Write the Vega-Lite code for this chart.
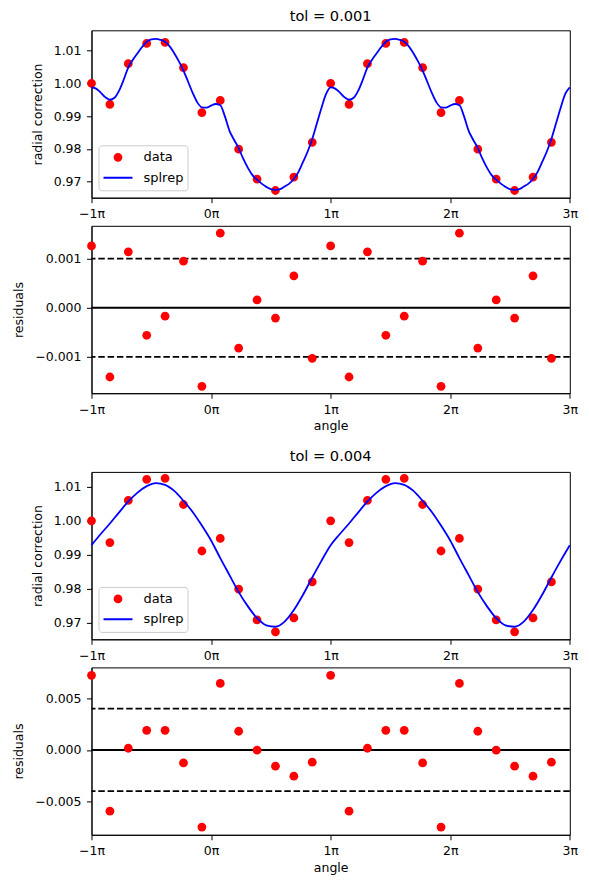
{
  "$schema": "https://vega.github.io/schema/vega-lite/v6.json",
  "background": "white",
  "padding": {"left": 11.5, "top": 7.3, "right": 5, "bottom": 5},
  "datasets": {
    "obs": [
      {"angle": -1, "value": 1.0000, "res_001": 0.00126, "res_004": 0.00723},
      {"angle": -0.84615, "value": 0.9936, "res_001": -0.00141, "res_004": -0.00594},
      {"angle": -0.69231, "value": 1.0060, "res_001": 0.00114, "res_004": 0.00016},
      {"angle": -0.53846, "value": 1.0122, "res_001": -0.00056, "res_004": 0.00190},
      {"angle": -0.38462, "value": 1.0125, "res_001": -0.00017, "res_004": 0.00190},
      {"angle": -0.23077, "value": 1.0048, "res_001": 0.00095, "res_004": -0.00126},
      {"angle": -0.07692, "value": 0.9911, "res_001": -0.00160, "res_004": -0.00748},
      {"angle": 0.07692, "value": 0.9948, "res_001": 0.00152, "res_004": 0.00645},
      {"angle": 0.23077, "value": 0.9799, "res_001": -0.00082, "res_004": 0.00181},
      {"angle": 0.38462, "value": 0.9708, "res_001": 0.00016, "res_004": -0.00003},
      {"angle": 0.53846, "value": 0.9673, "res_001": -0.00021, "res_004": -0.00158},
      {"angle": 0.69231, "value": 0.9714, "res_001": 0.00065, "res_004": -0.00255},
      {"angle": 0.84615, "value": 0.9820, "res_001": -0.00103, "res_004": -0.00119},
      {"angle": 1, "value": 1.0000, "res_001": 0.00126, "res_004": 0.00723},
      {"angle": 1.15385, "value": 0.9936, "res_001": -0.00141, "res_004": -0.00594},
      {"angle": 1.30769, "value": 1.0060, "res_001": 0.00114, "res_004": 0.00016},
      {"angle": 1.46154, "value": 1.0122, "res_001": -0.00056, "res_004": 0.00190},
      {"angle": 1.61538, "value": 1.0125, "res_001": -0.00017, "res_004": 0.00190},
      {"angle": 1.76923, "value": 1.0048, "res_001": 0.00095, "res_004": -0.00126},
      {"angle": 1.92308, "value": 0.9911, "res_001": -0.00160, "res_004": -0.00748},
      {"angle": 2.07692, "value": 0.9948, "res_001": 0.00152, "res_004": 0.00645},
      {"angle": 2.23077, "value": 0.9799, "res_001": -0.00082, "res_004": 0.00181},
      {"angle": 2.38462, "value": 0.9708, "res_001": 0.00016, "res_004": -0.00003},
      {"angle": 2.53846, "value": 0.9673, "res_001": -0.00021, "res_004": -0.00158},
      {"angle": 2.69231, "value": 0.9714, "res_001": 0.00065, "res_004": -0.00255},
      {"angle": 2.84615, "value": 0.9820, "res_001": -0.00103, "res_004": -0.00119}
    ],
    "spl_001": [
      {"angle": -1.000, "value": 0.9988}, {"angle": -0.962, "value": 0.9984}, {"angle": -0.923, "value": 0.9972},
      {"angle": -0.885, "value": 0.9958}, {"angle": -0.846, "value": 0.9950}, {"angle": -0.808, "value": 0.9956},
      {"angle": -0.769, "value": 0.9978}, {"angle": -0.731, "value": 1.0011}, {"angle": -0.692, "value": 1.0049},
      {"angle": -0.654, "value": 1.0072}, {"angle": -0.615, "value": 1.0092}, {"angle": -0.577, "value": 1.0111},
      {"angle": -0.538, "value": 1.0127}, {"angle": -0.500, "value": 1.0134}, {"angle": -0.462, "value": 1.0136},
      {"angle": -0.423, "value": 1.0133}, {"angle": -0.385, "value": 1.0127}, {"angle": -0.346, "value": 1.0113},
      {"angle": -0.308, "value": 1.0092}, {"angle": -0.269, "value": 1.0067}, {"angle": -0.231, "value": 1.0039},
      {"angle": -0.192, "value": 1.0005}, {"angle": -0.154, "value": 0.9971}, {"angle": -0.115, "value": 0.9942},
      {"angle": -0.077, "value": 0.9927}, {"angle": -0.038, "value": 0.9926}, {"angle": 0.000, "value": 0.9932},
      {"angle": 0.038, "value": 0.9937}, {"angle": 0.077, "value": 0.9933}, {"angle": 0.115, "value": 0.9900},
      {"angle": 0.154, "value": 0.9855}, {"angle": 0.192, "value": 0.9828}, {"angle": 0.231, "value": 0.9802},
      {"angle": 0.269, "value": 0.9770}, {"angle": 0.308, "value": 0.9742}, {"angle": 0.346, "value": 0.9720},
      {"angle": 0.385, "value": 0.9706}, {"angle": 0.423, "value": 0.9694}, {"angle": 0.462, "value": 0.9684},
      {"angle": 0.500, "value": 0.9677}, {"angle": 0.538, "value": 0.9675}, {"angle": 0.577, "value": 0.9677},
      {"angle": 0.615, "value": 0.9685}, {"angle": 0.654, "value": 0.9694}, {"angle": 0.692, "value": 0.9708},
      {"angle": 0.731, "value": 0.9730}, {"angle": 0.769, "value": 0.9760}, {"angle": 0.808, "value": 0.9792},
      {"angle": 0.846, "value": 0.9830}, {"angle": 0.885, "value": 0.9878}, {"angle": 0.923, "value": 0.9925},
      {"angle": 0.962, "value": 0.9968},
      {"angle": 1.000, "value": 0.9988}, {"angle": 1.038, "value": 0.9984}, {"angle": 1.077, "value": 0.9972},
      {"angle": 1.115, "value": 0.9958}, {"angle": 1.154, "value": 0.9950}, {"angle": 1.192, "value": 0.9956},
      {"angle": 1.231, "value": 0.9978}, {"angle": 1.269, "value": 1.0011}, {"angle": 1.308, "value": 1.0049},
      {"angle": 1.346, "value": 1.0072}, {"angle": 1.385, "value": 1.0092}, {"angle": 1.423, "value": 1.0111},
      {"angle": 1.462, "value": 1.0127}, {"angle": 1.500, "value": 1.0134}, {"angle": 1.538, "value": 1.0136},
      {"angle": 1.577, "value": 1.0133}, {"angle": 1.615, "value": 1.0127}, {"angle": 1.654, "value": 1.0113},
      {"angle": 1.692, "value": 1.0092}, {"angle": 1.731, "value": 1.0067}, {"angle": 1.769, "value": 1.0039},
      {"angle": 1.808, "value": 1.0005}, {"angle": 1.846, "value": 0.9971}, {"angle": 1.885, "value": 0.9942},
      {"angle": 1.923, "value": 0.9927}, {"angle": 1.962, "value": 0.9926}, {"angle": 2.000, "value": 0.9932},
      {"angle": 2.038, "value": 0.9937}, {"angle": 2.077, "value": 0.9933}, {"angle": 2.115, "value": 0.9900},
      {"angle": 2.154, "value": 0.9855}, {"angle": 2.192, "value": 0.9828}, {"angle": 2.231, "value": 0.9802},
      {"angle": 2.269, "value": 0.9770}, {"angle": 2.308, "value": 0.9742}, {"angle": 2.346, "value": 0.9720},
      {"angle": 2.385, "value": 0.9706}, {"angle": 2.423, "value": 0.9694}, {"angle": 2.462, "value": 0.9684},
      {"angle": 2.500, "value": 0.9677}, {"angle": 2.538, "value": 0.9675}, {"angle": 2.577, "value": 0.9677},
      {"angle": 2.615, "value": 0.9685}, {"angle": 2.654, "value": 0.9694}, {"angle": 2.692, "value": 0.9708},
      {"angle": 2.731, "value": 0.9730}, {"angle": 2.769, "value": 0.9760}, {"angle": 2.808, "value": 0.9792},
      {"angle": 2.846, "value": 0.9830}, {"angle": 2.885, "value": 0.9878}, {"angle": 2.923, "value": 0.9925},
      {"angle": 2.962, "value": 0.9968}, {"angle": 3.000, "value": 0.9988}
    ],
    "spl_004": [
      {"angle": -1.000, "value": 0.9928}, {"angle": -0.923, "value": 0.9961}, {"angle": -0.846, "value": 0.9992},
      {"angle": -0.769, "value": 1.0025}, {"angle": -0.692, "value": 1.0057}, {"angle": -0.615, "value": 1.0083},
      {"angle": -0.538, "value": 1.0102}, {"angle": -0.462, "value": 1.0111}, {"angle": -0.385, "value": 1.0106},
      {"angle": -0.308, "value": 1.0088}, {"angle": -0.231, "value": 1.0059}, {"angle": -0.154, "value": 1.0026},
      {"angle": -0.077, "value": 0.9986}, {"angle": 0.000, "value": 0.9942}, {"angle": 0.077, "value": 0.9890},
      {"angle": 0.154, "value": 0.9840}, {"angle": 0.231, "value": 0.9790}, {"angle": 0.308, "value": 0.9748},
      {"angle": 0.385, "value": 0.9713}, {"angle": 0.462, "value": 0.9692}, {"angle": 0.538, "value": 0.9688},
      {"angle": 0.615, "value": 0.9703}, {"angle": 0.692, "value": 0.9737}, {"angle": 0.769, "value": 0.9782},
      {"angle": 0.846, "value": 0.9833}, {"angle": 0.923, "value": 0.9882},
      {"angle": 1.000, "value": 0.9928}, {"angle": 1.077, "value": 0.9961}, {"angle": 1.154, "value": 0.9992},
      {"angle": 1.231, "value": 1.0025}, {"angle": 1.308, "value": 1.0057}, {"angle": 1.385, "value": 1.0083},
      {"angle": 1.462, "value": 1.0102}, {"angle": 1.538, "value": 1.0111}, {"angle": 1.615, "value": 1.0106},
      {"angle": 1.692, "value": 1.0088}, {"angle": 1.769, "value": 1.0059}, {"angle": 1.846, "value": 1.0026},
      {"angle": 1.923, "value": 0.9986}, {"angle": 2.000, "value": 0.9942}, {"angle": 2.077, "value": 0.9890},
      {"angle": 2.154, "value": 0.9840}, {"angle": 2.231, "value": 0.9790}, {"angle": 2.308, "value": 0.9748},
      {"angle": 2.385, "value": 0.9713}, {"angle": 2.462, "value": 0.9692}, {"angle": 2.538, "value": 0.9688},
      {"angle": 2.615, "value": 0.9703}, {"angle": 2.692, "value": 0.9737}, {"angle": 2.769, "value": 0.9782},
      {"angle": 2.846, "value": 0.9833}, {"angle": 2.923, "value": 0.9882}, {"angle": 3.000, "value": 0.9928}
    ]
  },
  "config": {
    "font": "DejaVu Sans",
    "view": {"stroke": "black", "strokeWidth": 1},
    "axis": {
      "grid": false,
      "domainColor": "black",
      "domainWidth": 1,
      "tickColor": "black",
      "tickSize": 5,
      "tickWidth": 1,
      "labelFont": "DejaVu Sans",
      "labelFontSize": 12.5,
      "labelColor": "black",
      "labelOverlap": false,
      "titleFont": "DejaVu Sans",
      "titleFontSize": 12.5,
      "titleFontWeight": "normal",
      "titleColor": "black"
    },
    "axisX": {"labelFlush": false, "labelPadding": 5, "titlePadding": 4},
    "axisY": {"labelPadding": 5.5, "titlePadding": 9},
    "title": {"font": "DejaVu Sans", "fontSize": 14.6, "fontWeight": "normal", "color": "black", "offset": 7},
    "legend": {
      "orient": "bottom-left",
      "offset": 7,
      "padding": 4,
      "strokeColor": "#cccccc",
      "fillColor": "rgba(255,255,255,0.8)",
      "cornerRadius": 3,
      "labelFont": "DejaVu Sans",
      "labelFontSize": 13,
      "labelColor": "black",
      "labelOffset": 10,
      "symbolStrokeWidth": 2,
      "clipHeight": 16,
      "rowPadding": 4.4
    }
  },
  "spacing": 14.6,
  "resolve": {"scale": {"color": "independent", "shape": "independent", "size": "independent"}, "legend": {"color": "independent", "shape": "independent", "size": "independent"}},
  "vconcat": [
    {
      "spacing": 3.5,
      "resolve": {"scale": {"color": "independent", "shape": "independent", "size": "independent"}, "legend": {"color": "independent", "shape": "independent", "size": "independent"}},
      "vconcat": [
        {
          "title": "tol = 0.001",
          "width": 478.3,
          "height": 167.4,
          "layer": [
            {
              "data": {"name": "obs"},
              "mark": {"type": "point", "filled": false, "fill": "#ff0000", "strokeWidth": 2, "opacity": 1},
              "encoding": {
                "x": {"field": "angle", "type": "quantitative", "scale": {"domain": [-1, 3], "nice": false, "zero": false},
                  "axis": {"title": null, "values": [-1, 0, 1, 2, 3], "labelExpr": "datum.value < 0 ? '−' + abs(datum.value) + 'π' : datum.value + 'π'"}},
                "y": {"field": "value", "type": "quantitative", "scale": {"domain": [0.9651, 1.0162], "nice": false, "zero": false},
                  "axis": {"title": "radial correction", "values": [0.97, 0.98, 0.99, 1.0, 1.01], "format": ".2f"}},
                "color": {"datum": "data", "type": "nominal", "scale": {"domain": ["data", "splrep"], "range": ["#ff0000", "#0000ff"]}, "legend": {"title": null}},
                "shape": {"datum": "data", "type": "nominal", "scale": {"domain": ["data", "splrep"], "range": ["circle", "stroke"]}, "legend": {"title": null}},
                "size": {"datum": "data", "type": "nominal", "scale": {"type": "ordinal", "domain": ["data", "splrep"], "range": [46, 841]}, "legend": {"title": null}}
              }
            },
            {
              "data": {"name": "spl_001"},
              "mark": {"type": "line", "strokeWidth": 1.8, "interpolate": "monotone", "color": "#0000ff"},
              "encoding": {
                "x": {"field": "angle", "type": "quantitative"},
                "y": {"field": "value", "type": "quantitative"}
              }
            }
          ]
        },
        {
          "width": 478.3,
          "height": 167.4,
          "layer": [
            {
              "data": {"values": [{"level": 0.001}, {"level": -0.001}]},
              "mark": {"type": "rule", "color": "black", "strokeWidth": 1.8, "strokeDash": [6.5, 2.8]},
              "encoding": {"y": {"field": "level", "type": "quantitative"}}
            },
            {
              "data": {"values": [{"level": 0}]},
              "mark": {"type": "rule", "color": "black", "strokeWidth": 2},
              "encoding": {"y": {"field": "level", "type": "quantitative"}}
            },
            {
              "data": {"name": "obs"},
              "mark": {"type": "point", "filled": true, "size": 77, "opacity": 1, "color": "#ff0000"},
              "encoding": {
                "x": {"field": "angle", "type": "quantitative", "scale": {"domain": [-1, 3], "nice": false, "zero": false},
                  "axis": {"title": "angle", "values": [-1, 0, 1, 2, 3], "labelExpr": "datum.value < 0 ? '−' + abs(datum.value) + 'π' : datum.value + 'π'"}},
                "y": {"field": "res_001", "type": "quantitative", "scale": {"domain": [-0.00174, 0.00167], "nice": false, "zero": false},
                  "axis": {"title": "residuals", "values": [-0.001, 0, 0.001], "format": ".3f"}}
              }
            }
          ]
        }
      ]
    },
    {
      "spacing": 3.5,
      "resolve": {"scale": {"color": "independent", "shape": "independent", "size": "independent"}, "legend": {"color": "independent", "shape": "independent", "size": "independent"}},
      "vconcat": [
        {
          "title": "tol = 0.004",
          "width": 478.3,
          "height": 167.4,
          "layer": [
            {
              "data": {"name": "obs"},
              "mark": {"type": "point", "filled": false, "fill": "#ff0000", "strokeWidth": 2, "opacity": 1},
              "encoding": {
                "x": {"field": "angle", "type": "quantitative", "scale": {"domain": [-1, 3], "nice": false, "zero": false},
                  "axis": {"title": null, "values": [-1, 0, 1, 2, 3], "labelExpr": "datum.value < 0 ? '−' + abs(datum.value) + 'π' : datum.value + 'π'"}},
                "y": {"field": "value", "type": "quantitative", "scale": {"domain": [0.9651, 1.0144], "nice": false, "zero": false},
                  "axis": {"title": "radial correction", "values": [0.97, 0.98, 0.99, 1.0, 1.01], "format": ".2f"}},
                "color": {"datum": "data", "type": "nominal", "scale": {"domain": ["data", "splrep"], "range": ["#ff0000", "#0000ff"]}, "legend": {"title": null}},
                "shape": {"datum": "data", "type": "nominal", "scale": {"domain": ["data", "splrep"], "range": ["circle", "stroke"]}, "legend": {"title": null}},
                "size": {"datum": "data", "type": "nominal", "scale": {"type": "ordinal", "domain": ["data", "splrep"], "range": [46, 841]}, "legend": {"title": null}}
              }
            },
            {
              "data": {"name": "spl_004"},
              "mark": {"type": "line", "strokeWidth": 1.8, "interpolate": "monotone", "color": "#0000ff"},
              "encoding": {
                "x": {"field": "angle", "type": "quantitative"},
                "y": {"field": "value", "type": "quantitative"}
              }
            }
          ]
        },
        {
          "width": 478.3,
          "height": 167.4,
          "layer": [
            {
              "data": {"values": [{"level": 0.004}, {"level": -0.004}]},
              "mark": {"type": "rule", "color": "black", "strokeWidth": 1.8, "strokeDash": [6.5, 2.8]},
              "encoding": {"y": {"field": "level", "type": "quantitative"}}
            },
            {
              "data": {"values": [{"level": 0}]},
              "mark": {"type": "rule", "color": "black", "strokeWidth": 2},
              "encoding": {"y": {"field": "level", "type": "quantitative"}}
            },
            {
              "data": {"name": "obs"},
              "mark": {"type": "point", "filled": true, "size": 77, "opacity": 1, "color": "#ff0000"},
              "encoding": {
                "x": {"field": "angle", "type": "quantitative", "scale": {"domain": [-1, 3], "nice": false, "zero": false},
                  "axis": {"title": "angle", "values": [-1, 0, 1, 2, 3], "labelExpr": "datum.value < 0 ? '−' + abs(datum.value) + 'π' : datum.value + 'π'"}},
                "y": {"field": "res_004", "type": "quantitative", "scale": {"domain": [-0.00823, 0.0080], "nice": false, "zero": false},
                  "axis": {"title": "residuals", "values": [-0.005, 0, 0.005], "format": ".3f"}}
              }
            }
          ]
        }
      ]
    }
  ]
}
